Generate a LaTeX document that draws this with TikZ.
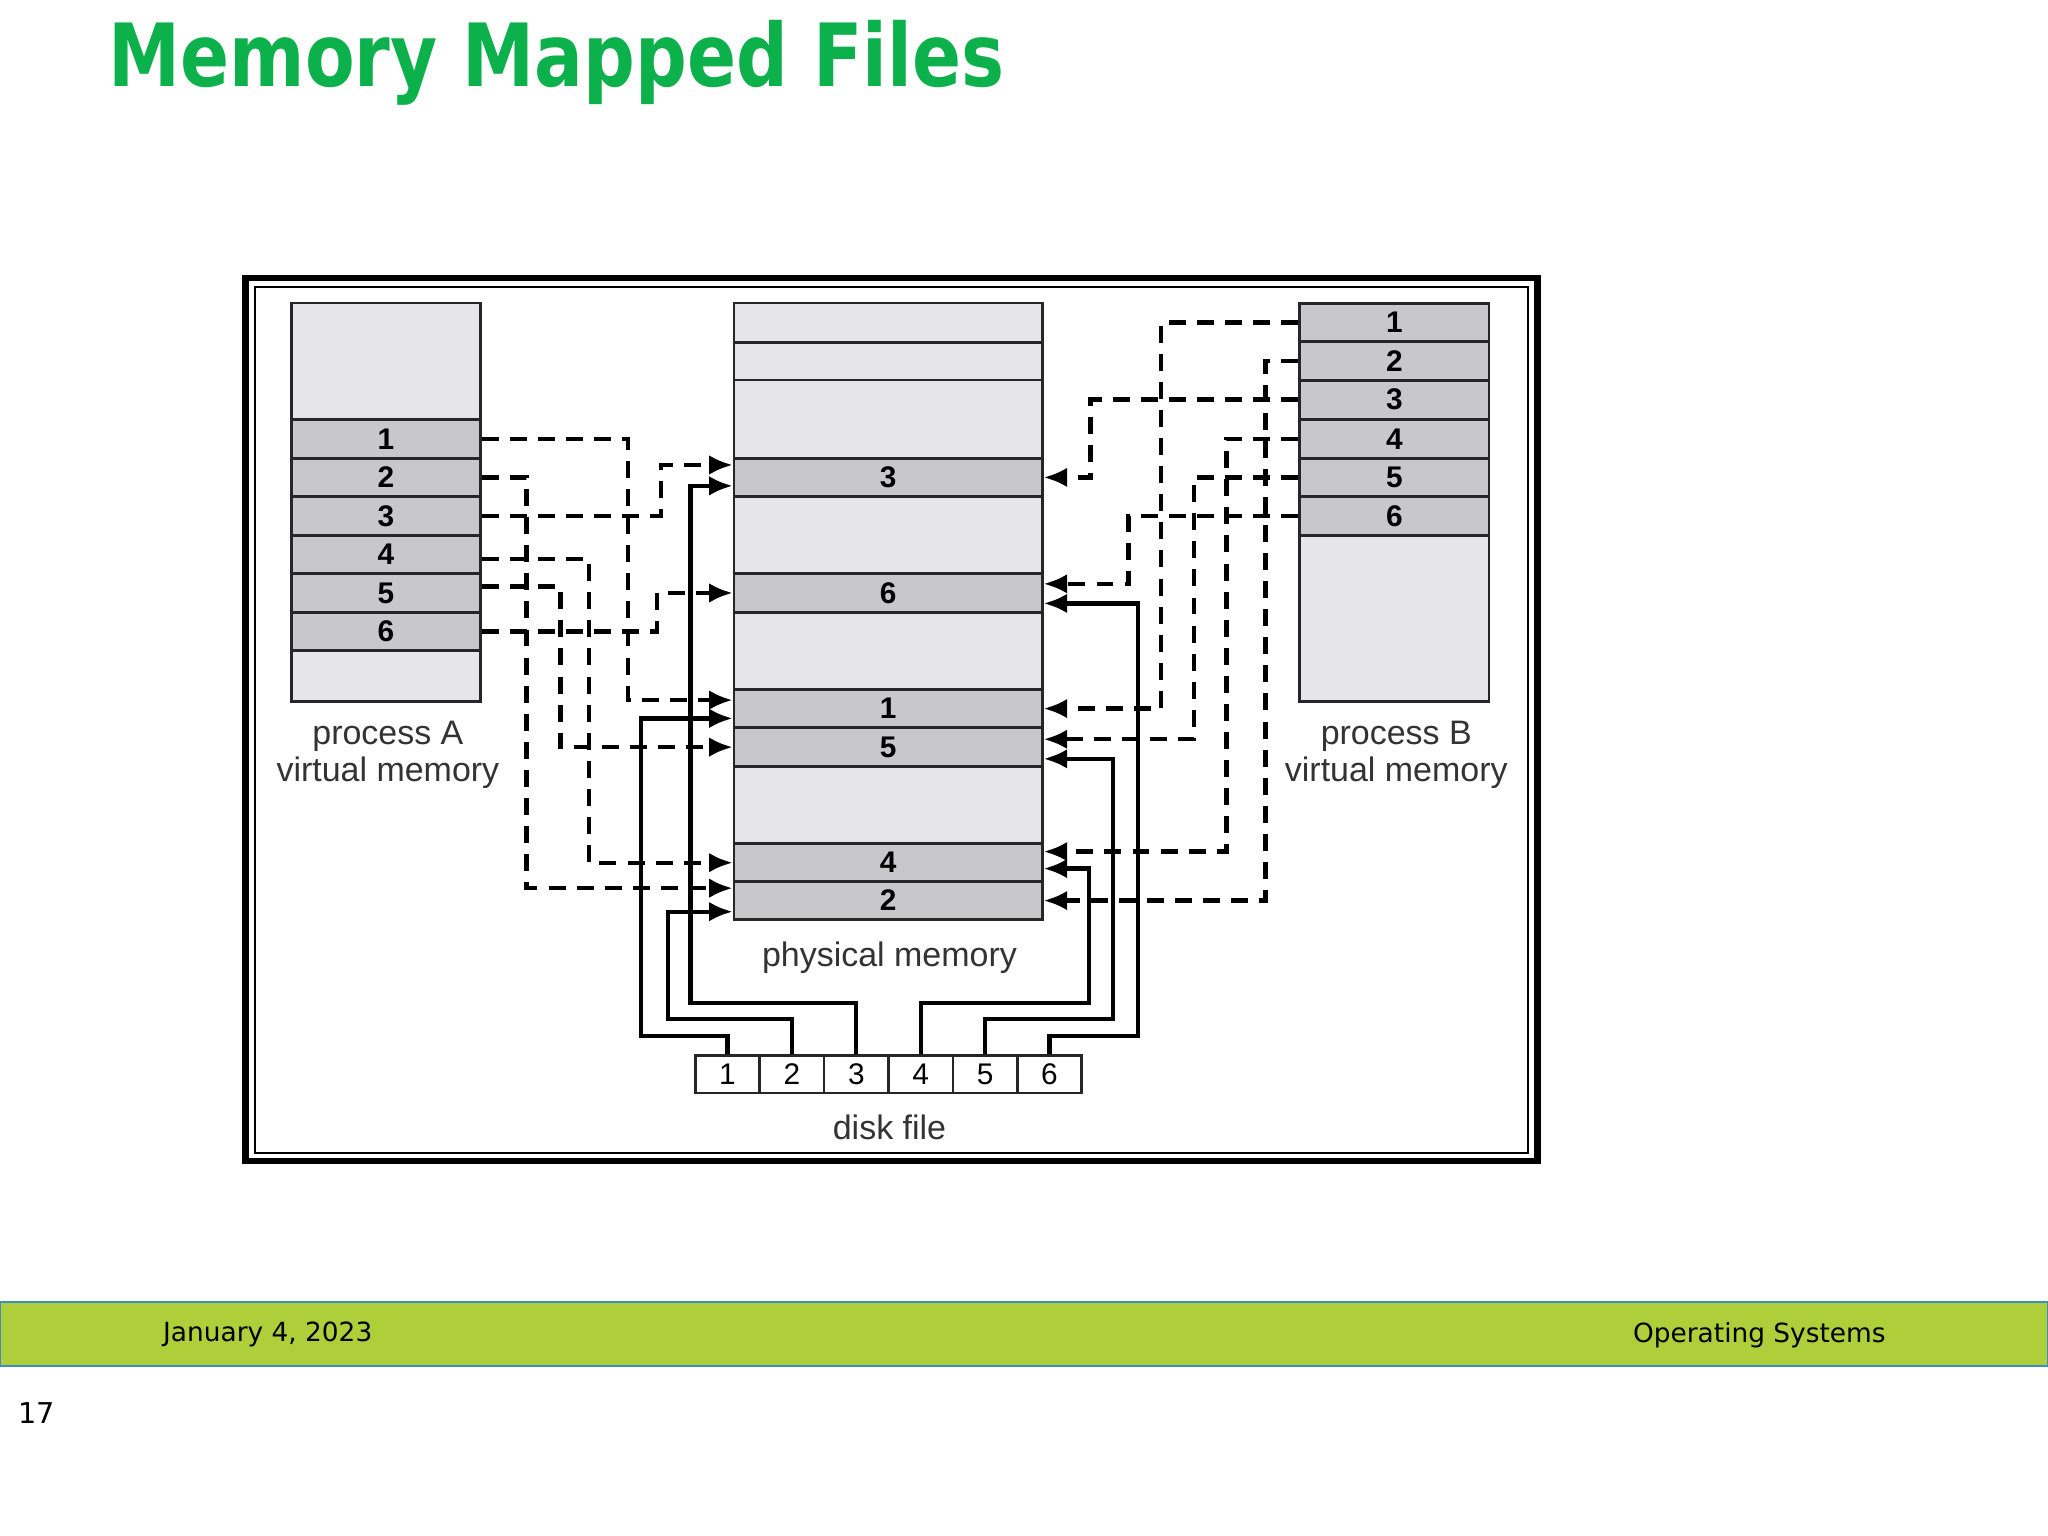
\documentclass[tikz,border=0pt]{standalone}
\usepackage{fontspec}
\setmainfont{Liberation Sans}
\newfontfamily\tah{DejaVu Sans}
\usetikzlibrary{arrows.meta}
\definecolor{lite}{HTML}{E6E6E8}
\definecolor{dark}{HTML}{C8C8CA}
\definecolor{ttl}{HTML}{0DB14B}
\definecolor{bar}{HTML}{AECE3A}
\definecolor{barb}{HTML}{3A8FC0}
\begin{document}
\begin{tikzpicture}[x=0.02cm,y=-0.02cm,
  row/.style={draw=black!85,line width=1.2pt,fill=dark,minimum width=2.9cm,minimum height=0.59cm,inner sep=0,font=\bfseries\fontsize{13}{13}\selectfont},
  prow/.style={row,minimum width=4.72cm},
  dcell/.style={draw=black!85,line width=1.1pt,fill=white,minimum width=0.986cm,minimum height=0.58cm,inner sep=0,font=\fontsize{13}{13}\selectfont},
  lbl/.style={font=\fontsize{14.8}{16}\selectfont,align=center,text=black!80},
  dsh/.style={line width=1.9pt,dash pattern=on 0.26cm off 0.17cm,-{Latex[length=0.36cm,width=0.3cm]}},
  sol/.style={line width=1.9pt,-{Latex[length=0.36cm,width=0.3cm]}}]
\useasboundingbox (0,0) rectangle (1568,1176);
\fill[white] (0,0) rectangle (1568,1176);
% title
\node[anchor=west,text=ttl,font=\tah\bfseries\fontsize{38}{38}\selectfont,xscale=0.83,transform shape] (title) at (78,48) {Memory Mapped Files};
% frame
\draw[line width=0.1cm] (188,213) rectangle (1177,889);
\draw[line width=0.9pt] (195,220) rectangle (1170,883);
% process A
\draw[draw=black!85,line width=1.2pt,fill=lite] (223,232) rectangle (368,537);
\foreach \i/\y in {1/336,2/365.5,3/395,4/424.5,5/454,6/483.5}
  \node[row] (a\i) at (295.5,\y) {\i};
\node[lbl] (la) at (297,578) {process A\\virtual memory};
% physical
\draw[draw=black!85,line width=1.2pt,fill=lite] (562,232) rectangle (798,704);
\draw[draw=black!85,line width=1.2pt] (562,262) -- (798,262) (562,291) -- (798,291);
\foreach \i/\y in {3/365.5,6/454,1/542.5,5/572,4/660.5,2/689.5}
  \node[prow] (p\i) at (680,\y) {\i};
\node[lbl] (lp) at (681,733) {physical memory};
% process B
\draw[draw=black!85,line width=1.2pt,fill=lite] (995,232) rectangle (1140,537);
\foreach \i/\y in {1/247,2/276.5,3/306,4/336,5/365.5,6/395}
  \node[row] (b\i) at (1067.5,\y) {\i};
\node[lbl] (lb) at (1069,578) {process B\\virtual memory};
% disk
\foreach \i in {1,...,6}
  \node[dcell] (d\i) at ({557+49.3*(\i-1)},822.5) {\i};
\node[lbl] (ld) at (681,863) {disk file};
% A dashed
\draw[dsh] (a1.east) -- +(112,0) |- ([yshift=.13cm]p1.west);
\draw[dsh] (a2.east) -- +(34,0) |- ([yshift=.19cm]p2.west);
\draw[dsh] (a3.east) -- +(137,0) |- ([yshift=.19cm]p3.west);
\draw[dsh] ([yshift=-.07cm]a4.east) -- +(82,0) |- (p4.west);
\draw[dsh] ([yshift=.1cm]a5.east) -- +(60,0) |- (p5.west);
\draw[dsh] (a6.east) -- +(134,0) |- (p6.west);
% B dashed
\draw[dsh] (b1.west) -- +(-105,0) |- (p1.east);
\draw[dsh] (b2.west) -- +(-25,0) |- (p2.east);
\draw[dsh] (b3.west) -- +(-159,0) |- (p3.east);
\draw[dsh] (b4.west) -- +(-55,0) |- ([yshift=.17cm]p4.east);
\draw[dsh] (b5.west) -- +(-80,0) |- ([yshift=.12cm]p5.east);
\draw[dsh] (b6.west) -- +(-130,0) |- ([yshift=.14cm]p6.east);
% disk solid
\draw[sol] (d1.north) -- ++(0,-14) -- ++(-66,0) |- ([yshift=-.15cm]p1.west);
\draw[sol] (d2.north) -- ++(0,-27) -- ++(-95,0) |- ([yshift=-.17cm]p2.west);
\draw[sol] (d3.north) -- ++(0,-39) -- ++(-127,0) |- ([yshift=-.13cm]p3.west);
\draw[sol] (d4.north) -- ++(0,-39) -- ++(129,0) |- ([yshift=-.09cm]p4.east);
\draw[sol] (d5.north) -- ++(0,-27) -- ++(98,0) |- ([yshift=-.18cm]p5.east);
\draw[sol] (d6.north) -- ++(0,-14) -- ++(68,0) |- ([yshift=-.16cm]p6.east);
% footer
\draw[fill=bar,draw=barb,line width=0.8pt] (0,997) rectangle (1568,1046);
\node[font=\tah\fontsize{11.5}{12}\selectfont] (date) at (205,1022) {January 4, 2023};
\node[font=\tah\fontsize{11.5}{12}\selectfont] (os) at (1347,1022) {Operating Systems};
\node[font=\tah\fontsize{12.5}{13}\selectfont] (pg) at (28,1082) {17};
\end{tikzpicture}
\end{document}
